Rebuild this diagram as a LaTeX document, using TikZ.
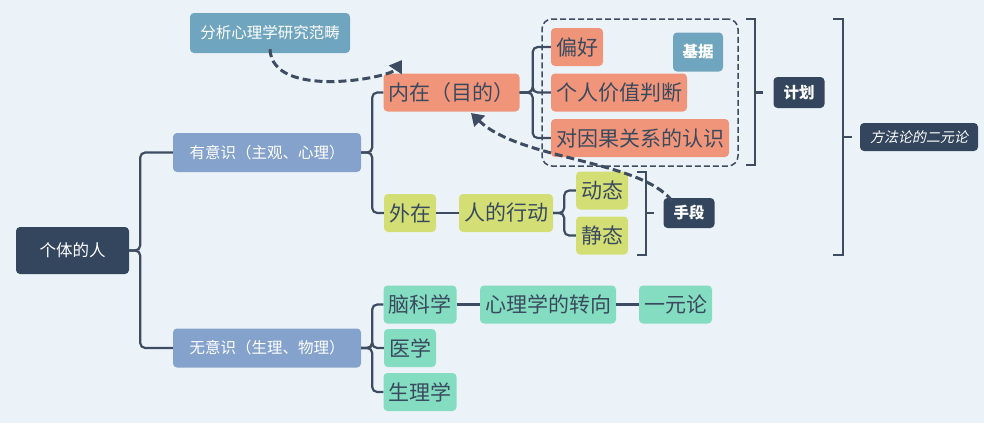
\documentclass[tikz,border=0pt]{standalone}
\usepackage{fontspec}
\setmainfont{Noto Sans CJK SC}
\newfontfamily\slantcjk[FakeSlant=0.2]{Noto Sans CJK SC}
\usetikzlibrary{arrows.meta}
\definecolor{paperbg}{HTML}{ECF3F8}
\definecolor{inkdark}{HTML}{34465E}
\definecolor{linecol}{HTML}{3E4C62}
\definecolor{textdark}{HTML}{3A4A5E}
\definecolor{midblue}{HTML}{84A2CC}
\definecolor{tealblue}{HTML}{70A5BF}
\definecolor{salmon}{HTML}{F1957A}
\definecolor{lime}{HTML}{D3DE74}
\definecolor{mint}{HTML}{84DDC0}

\begin{document}
\begin{tikzpicture}[x=1pt,y=-1pt,
  box/.style={rounded corners=4pt,inner ysep=0pt,anchor=center},
  rootbox/.style={box,fill=inkdark,text=white,font=\fontsize{16.5}{16.5}\selectfont,
    minimum width=113pt,minimum height=47pt},
  lvone/.style={box,fill=midblue,text=white,font=\fontsize{15.5}{15.5}\selectfont,
    minimum width=188pt,minimum height=39pt},
  topic/.style={box,text=textdark,font=\fontsize{21}{21}\selectfont,
    inner xsep=5pt,minimum height=38pt},
  darktag/.style={box,fill=inkdark,text=white,font=\fontsize{15.5}{15.5}\selectfont\bfseries,
    inner xsep=10pt},
  notetag/.style={box,fill=tealblue,text=white,font=\fontsize{15.5}{15.5}\selectfont},
  link/.style={draw=linecol,line width=2.2pt,rounded corners=5pt},
  bracket/.style={draw=linecol,line width=2.2pt},
  relate/.style={draw=linecol,line width=3pt,dash pattern=on 8pt off 4pt,
    -{Triangle[length=12pt,width=15pt]}}
]
  \fill[paperbg] (0,0) rectangle (984,423);

  % basis group
  \node[draw=linecol,line width=1.5pt,dash pattern=on 6pt off 3pt,rounded corners=10pt,
    minimum width=196pt,minimum height=147pt] (basisbox) at (640,92.5) {};

  % main nodes
  \node[rootbox] (person) at (72.5,250.5) {个体的人};
  \node[lvone] (mind) at (267,152.5) {有意识（主观、心理）};
  \node[lvone] (body) at (267,348) {无意识（生理、物理）};
  \node[notetag,minimum width=160pt,minimum height=40pt] (scope) at (270,33) {分析心理学研究范畴};

  \node[topic,fill=salmon] (inner) at (451.5,92.5) {内在（目的）};
  \node[topic,fill=salmon] (pref) at (577,47) {偏好};
  \node[topic,fill=salmon] (value) at (619,92.5) {个人价值判断};
  \node[topic,fill=salmon] (cause) at (640,138) {对因果关系的认识};
  \node[notetag,font=\fontsize{15.5}{15.5}\selectfont\bfseries,
    minimum width=50pt,minimum height=39pt] (basis) at (698,52) {基据};

  \node[topic,fill=lime] (outer) at (410,213) {外在};
  \node[topic,fill=lime] (act) at (506,213) {人的行动};
  \node[topic,fill=lime] (dyn) at (602,190.5) {动态};
  \node[topic,fill=lime] (stat) at (602,235.5) {静态};

  \node[topic,fill=mint] (brain) at (420,304.5) {脑科学};
  \node[topic,fill=mint] (turn) at (548,304.5) {心理学的转向};
  \node[topic,fill=mint] (mono) at (675.5,304.5) {一元论};
  \node[topic,fill=mint] (med) at (410,348) {医学};
  \node[topic,fill=mint] (phys) at (420,392) {生理学};

  \node[darktag,minimum height=30pt] (means) at (689,213) {手段};
  \node[darktag,minimum height=31pt] (plan) at (799,92.5) {计划};
  \node[box,fill=inkdark,text=white,font=\fontsize{14}{14}\selectfont\slantcjk,
    minimum width=118pt,minimum height=28pt] (dual) at (919,137) {方法论的二元论};

  % tree lines
  \draw[link] (person.east) -- ++(11,0) |- (mind.west);
  \draw[link] (person.east) -- ++(11,0) |- (body.west);
  \draw[link] (mind.east) -- ++(11,0) |- (inner.west);
  \draw[link] (mind.east) -- ++(11,0) |- (outer.west);
  \draw[link] (body.east) -- ++(11,0) |- (brain.west);
  \draw[link] (body.east) -- ++(11,0) |- (med.west);
  \draw[link] (body.east) -- ++(11,0) |- (phys.west);
  \draw[link] (inner.east) -- ++(13,0) |- (pref.west);
  \draw[link] (inner.east) -- ++(13,0) |- (value.west);
  \draw[link] (inner.east) -- ++(13,0) |- (cause.west);
  \draw[link] (outer) -- (act);
  \draw[link] (act.east) -- ++(11,0) |- (dyn.west);
  \draw[link] (act.east) -- ++(11,0) |- (stat.west);
  \draw[link] (brain) -- (turn);
  \draw[link] (turn) -- (mono);

  % brackets
  \coordinate (meansTop) at (637,172);
  \coordinate (meansBot) at (637,255);
  \draw[bracket] (meansTop) -- ++(9,0) |- (meansBot);
  \draw[bracket] ([xshift=-9pt]means.west) -- ++(-8,0);
  \coordinate (planTop) at (746,19);
  \coordinate (planBot) at (746,165);
  \draw[bracket] (planTop) -- ++(9,0) |- (planBot);
  \draw[bracket] ([xshift=-10pt]plan.west) -- ++(-8,0);
  \coordinate (dualTop) at (833,19);
  \coordinate (dualBot) at (833,255);
  \draw[bracket] (dualTop) -- ++(10,0) |- (dualBot);
  \draw[bracket] ([xshift=-8pt]dual.west) -- ++(-9,0);

  % relationships
  \draw[relate] ([yshift=4pt]scope.south) .. controls (272,100) and (390,78) .. (402,60);
  \draw[relate] ([xshift=-17pt,yshift=-3pt]means.north) .. controls (640,160) and (520,160) .. (471,113);
\end{tikzpicture}
\end{document}
